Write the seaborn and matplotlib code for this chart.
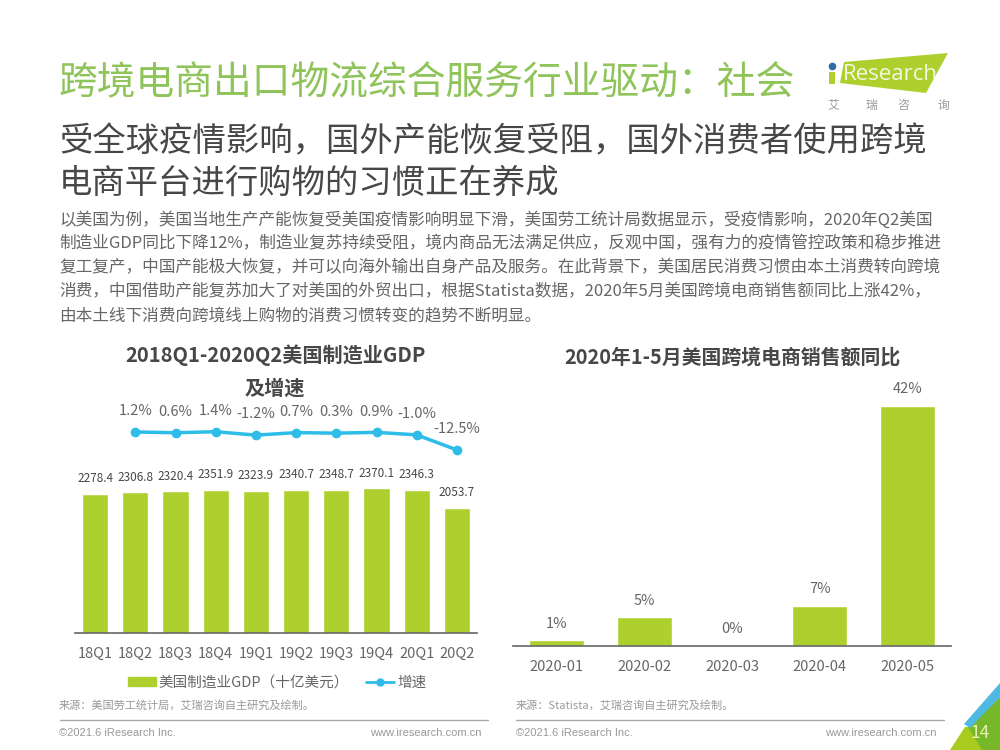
"""
Recreates the iResearch slide: US manufacturing GDP and cross-border e-commerce sales.
"""

import matplotlib
matplotlib.use("Agg")
import matplotlib.pyplot as plt
from matplotlib.lines import Line2D
from matplotlib.patches import Patch, Polygon
import numpy as np
import seaborn as sns

OUTPUT_PNG = "out.png"

BAR_GREEN = "#aed02f"
LINE_BLUE = "#2dbde8"
TITLE_GREEN = "#8fc45a"
DARK = "#474747"
BODY = "#666666"
GREY = "#999999"
AXIS_LINE = "#666666"

# full-width punctuation
C = "\uff0c"
K = "\uff1a"
LP = "\uff08"
RP = "\uff09"

# ── Data ──────────────────────────────────────────────────────────────────
quarters = ["18Q1", "18Q2", "18Q3", "18Q4", "19Q1", "19Q2", "19Q3", "19Q4", "20Q1", "20Q2"]
gdp_values = [2278.4, 2306.8, 2320.4, 2351.9, 2323.9, 2340.7, 2348.7, 2370.1, 2346.3, 2053.7]
# growth starts at the second quarter
growth_values = [1.2, 0.6, 1.4, -1.2, 0.7, 0.3, 0.9, -1.0, -12.5]

months = ["2020-01", "2020-02", "2020-03", "2020-04", "2020-05"]
sales_growth = [1, 5, 0, 7, 42]

title_text = f"跨境电商出口物流综合服务行业驱动{K}社会"
subtitle_lines = [
    f"受全球疫情影响{C}国外产能恢复受阻{C}国外消费者使用跨境",
    "电商平台进行购物的习惯正在养成",
]
body_lines = [
    f"以美国为例{C}美国当地生产产能恢复受美国疫情影响明显下滑{C}美国劳工统计局数据显示{C}受疫情影响{C}2020年Q2美国",
    f"制造业GDP同比下降12%{C}制造业复苏持续受阻{C}境内商品无法满足供应{C}反观中国{C}强有力的疫情管控政策和稳步推进",
    f"复工复产{C}中国产能极大恢复{C}并可以向海外输出自身产品及服务。在此背景下{C}美国居民消费习惯由本土消费转向跨境",
    f"消费{C}中国借助产能复苏加大了对美国的外贸出口{C}根据Statista数据{C}2020年5月美国跨境电商销售额同比上涨42%{C}",
    "由本土线下消费向跨境线上购物的消费习惯转变的趋势不断明显。",
]

sns.set_theme(style="white")
plt.rcParams["font.family"] = ["Noto Sans CJK SC", "DejaVu Sans"]


def px_axes(fig, left, top, right, bottom):
    # axes placed by slide pixels, origin top-left
    return fig.add_axes([left / 1000, 1 - bottom / 750, (right - left) / 1000, (bottom - top) / 750])


def setup_bar_ax(ax):
    ax.set_xlabel("")
    ax.set_ylabel("")
    ax.set_yticks([])
    ax.patch.set_alpha(0)
    ax.spines[["top", "right", "left"]].set_visible(False)
    ax.spines["bottom"].set_color(AXIS_LINE)
    ax.spines["bottom"].set_linewidth(1.2)
    ax.tick_params(axis="x", length=0, labelsize=10.5, labelcolor=BODY, pad=10)


def draw_page(bg):
    t = bg.text
    t(59, 83, title_text, fontsize=27.9, color=TITLE_GREEN, va="center")
    for y, line in zip([142, 183], subtitle_lines):
        t(59, y, line, fontsize=24, color=DARK, va="center")
    for y, line in zip([220, 244, 268, 292, 316], body_lines):
        t(59, y, line, fontsize=12, color=BODY, va="center")

    t(275, 355, "2018Q1-2020Q2美国制造业GDP", fontsize=14.5, color=DARK, weight="bold", ha="center", va="center")
    t(275, 388, "及增速", fontsize=14.5, color=DARK, weight="bold", ha="center", va="center")
    t(732, 357, "2020年1-5月美国跨境电商销售额同比", fontsize=14.3, color=DARK, weight="bold", ha="center", va="center")

    # sources and footer
    t(59, 705, f"来源{K}美国劳工统计局{C}艾瑞咨询自主研究及绘制。", fontsize=8, color=GREY, va="center")
    t(516, 705, f"来源{K}Statista{C}艾瑞咨询自主研究及绘制。", fontsize=8, color=GREY, va="center")
    bg.plot([60, 488], [720, 720], color="#aaaaaa", lw=1)
    bg.plot([516, 944], [720, 720], color="#aaaaaa", lw=1)
    t(59, 733, "©2021.6 iResearch Inc.", fontsize=8, color=GREY, va="center", family=["Liberation Sans"])
    t(482, 733, "www.iresearch.com.cn", fontsize=8, color=GREY, va="center", ha="right", family=["Liberation Sans"])
    t(516, 733, "©2021.6 iResearch Inc.", fontsize=8, color=GREY, va="center", family=["Liberation Sans"])
    t(937, 733, "www.iresearch.com.cn", fontsize=8, color=GREY, va="center", ha="right", family=["Liberation Sans"])

    # corner decoration
    bg.add_patch(Polygon([[950, 750], [965, 727], [1000, 727], [1000, 750]], color="#a8cc1e", lw=0))
    bg.add_patch(Polygon([[968, 727], [1000, 697], [1000, 750], [982, 750]], color="#76b82a", lw=0))
    bg.add_patch(Polygon([[964, 724], [1000, 683], [1000, 697], [970, 728]], color="#4fb9e3", lw=0))
    t(980, 733, "14", fontsize=12.5, color="#e8f3b0", ha="center", va="center")

    # logo
    bg.add_patch(Polygon([[844, 62], [948, 53], [926, 93], [840, 83]], color=BAR_GREEN, lw=0))
    bg.add_patch(Polygon([[829, 72], [835, 72], [835, 84], [829, 84]], color=BAR_GREEN, lw=0))
    bg.scatter([832], [66], s=30, color="#2f6ca5", lw=0)
    t(843, 75, "Research", fontsize=16, color="#f4f8e0", va="center", family=["Open Sans", "DejaVu Sans"])
    for x, ch in zip([833, 871, 903, 943], "艾瑞咨询"):
        t(x, 105, ch, fontsize=8.5, color=GREY, ha="center", va="center")


def draw_gdp(ax):
    sns.barplot(x=quarters, y=gdp_values, color=BAR_GREEN, width=0.65, saturation=1, ax=ax)
    setup_bar_ax(ax)
    ax.set_xlim(-0.5, 9.5)
    ax.set_ylim(0, 3820)
    for i, val in enumerate(gdp_values):
        ax.annotate(f"{val:.1f}", (i, val), xytext=(0, 11), textcoords="offset points",
                    ha="center", va="center", fontsize=8.5, color=DARK)

    ax2 = ax.twinx()
    line_x = np.arange(1, len(quarters))
    sns.lineplot(x=line_x, y=growth_values, color=LINE_BLUE, linewidth=2.5,
                 marker="o", markersize=7, markeredgewidth=0, ax=ax2)
    ax2.set_ylim(-152.2, 25.6)
    ax2.axis("off")
    ax2.patch.set_alpha(0)
    for x, val in zip(line_x, growth_values):
        ax2.annotate(f"{val:.1f}%", (x, val), xytext=(0, 15), textcoords="offset points",
                     ha="center", va="center", fontsize=10.5, color=BODY)
    return ax2


def draw_sales(ax):
    sns.barplot(x=months, y=sales_growth, color=BAR_GREEN, width=0.63, saturation=1, ax=ax)
    setup_bar_ax(ax)
    ax.set_xlim(-0.5, 4.5)
    ax.set_ylim(0, 45)
    for i, val in enumerate(sales_growth):
        ax.annotate(f"{val}%", (i, val), xytext=(0, 12), textcoords="offset points",
                    ha="center", va="center", fontsize=10.5, color=BODY)


fig = plt.figure(figsize=(10, 7.5), dpi=100, facecolor="white")

bg = fig.add_axes([0, 0, 1, 1])
bg.set_xlim(0, 1000)
bg.set_ylim(750, 0)
bg.axis("off")
draw_page(bg)

ax_left = px_axes(fig, 75, 400, 477, 633)
ax_line = draw_gdp(ax_left)
ax_right = px_axes(fig, 513, 389, 951, 646)
draw_sales(ax_right)

fig.legend(
    handles=[Patch(color=BAR_GREEN, label=f"美国制造业GDP{LP}十亿美元{RP}"),
             Line2D([0], [0], color=LINE_BLUE, lw=2, marker="o", markersize=5, label="增速")],
    loc="center", bbox_to_anchor=(0.277, 1 - 683 / 750), ncol=2, frameon=False,
    fontsize=10.5, labelcolor=BODY, handlelength=1.9, handleheight=0.6, handletextpad=0.2, columnspacing=1.2,
)

fig.savefig(OUTPUT_PNG, dpi=100, facecolor="white")
plt.close(fig)
